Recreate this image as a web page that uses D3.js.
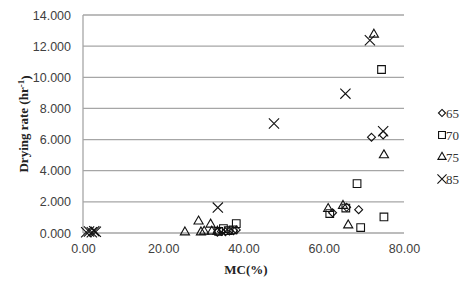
<!DOCTYPE html>
<html>
<head>
<meta charset="utf-8">
<script src="https://cdn.jsdelivr.net/npm/d3@7"></script>
<style>
  html, body { margin: 0; padding: 0; background: #fff; }
  svg { display: block; }
</style>
</head>
<body>
<div id="chart"></div>
<script>
// Drying rate vs moisture content, one series per temperature
const seriesNames = ['65', '70', '75', '85'];

const x65 = [33.5, 34.5, 35.5, 36.5, 37.5, 38.2, 62.2, 65.7, 68.7, 71.9, 74.8];
const y65 = [0.05, 0.10, 0.08, 0.12, 0.15, 0.20, 1.30, 1.65, 1.50, 6.15, 6.30];

const x70 = [33.8, 35.0, 36.2, 37.4, 38.2, 61.5, 65.5, 68.3, 69.2, 74.4, 75.0];
const y70 = [0.10, 0.28, 0.15, 0.20, 0.60, 1.25, 1.60, 3.17, 0.35, 10.50, 1.03];

const x75 = [25.4, 28.8, 29.4, 30.2, 31.8, 32.1, 33.5, 61.1, 64.8, 66.1, 72.5, 75.0];
const y75 = [0.05, 0.75, 0.05, 0.10, 0.55, 0.10, 0.10, 1.55, 1.75, 0.50, 12.75, 5.00];

const x85 = [0.8, 1.5, 2.2, 2.8, 3.2, 33.6, 47.6, 65.4, 71.5, 74.8];
const y85 = [0.05, 0.10, 0.05, 0.12, 0.08, 1.63, 7.03, 8.95, 12.38, 6.53];

const xTicks = [0, 20, 40, 60, 80];
const yTicks = [0, 2, 4, 6, 8, 10, 12, 14];

const width = 474, height = 291;
const margin = { top: 15, right: 70, bottom: 58, left: 83 };

const svg = d3.select('#chart').append('svg')
  .attr('width', width)
  .attr('height', height);

const x = d3.scaleLinear().domain([0, 80]).range([margin.left, width - margin.right]);
const y = d3.scaleLinear().domain([0, 14]).range([height - margin.bottom, margin.top]);

const gridColor = '#a6a6a6';
const tickFont = '"Liberation Sans", Arial, sans-serif';
const serif = '"Liberation Serif", "Times New Roman", serif';

// horizontal gridlines
svg.append('g')
  .selectAll('line')
  .data(yTicks)
  .enter()
  .append('line')
  .attr('x1', x(0))
  .attr('x2', x(80))
  .attr('y1', d => y(d))
  .attr('y2', d => y(d))
  .attr('stroke', gridColor)
  .attr('stroke-width', 1.3);

// vertical axis line
svg.append('line')
  .attr('x1', x(0)).attr('x2', x(0))
  .attr('y1', y(0)).attr('y2', y(14))
  .attr('stroke', gridColor)
  .attr('stroke-width', 1.3);

// y tick labels
const yAxis = svg.append('g')
  .attr('transform', `translate(${x(0)},0)`)
  .call(d3.axisLeft(y).tickValues(yTicks).tickSize(0).tickPadding(12).tickFormat(d3.format('.3f')));
yAxis.select('.domain').remove();
yAxis.selectAll('text')
  .style('font-family', tickFont)
  .style('font-size', '12.5px')
  .style('fill', '#404040');

// x tick labels
const xAxis = svg.append('g')
  .attr('transform', `translate(0,${y(0)})`)
  .call(d3.axisBottom(x).tickValues(xTicks).tickSize(0).tickPadding(11).tickFormat(d3.format('.2f')));
xAxis.select('.domain').remove();
xAxis.selectAll('text')
  .style('font-family', tickFont)
  .style('font-size', '12.5px')
  .style('fill', '#404040');

// axis titles
svg.append('text')
  .attr('transform', `translate(28,${(y(0) + y(14)) / 2}) rotate(-90)`)
  .attr('text-anchor', 'middle')
  .style('font-family', serif)
  .style('font-weight', 'bold')
  .style('font-size', '13px')
  .style('fill', '#222')
  .text('Drying rate (hr')
  .append('tspan')
  .attr('dy', '-0.45em')
  .style('font-size', '9px')
  .text('-1')
  .append('tspan')
  .attr('dy', '0.45em')
  .style('font-size', '13px')
  .text(')');

svg.append('text')
  .attr('x', 246)
  .attr('y', 274)
  .attr('text-anchor', 'middle')
  .style('font-family', serif)
  .style('font-weight', 'bold')
  .style('font-size', '13px')
  .style('fill', '#222')
  .text('MC(%)');

// markers
const symbolTypes = {
  '65': d3.symbolDiamond2,
  '70': d3.symbolSquare2,
  '75': d3.symbolTriangle2,
  '85': d3.symbolX
};
const symbolSizes = { '65': 40, '70': 75, '75': 60, '85': 70 };

const allSeries = [
  { name: '65', xs: x65, ys: y65 },
  { name: '70', xs: x70, ys: y70 },
  { name: '75', xs: x75, ys: y75 },
  { name: '85', xs: x85, ys: y85 }
];

allSeries.forEach(s => {
  const sym = d3.symbol().type(symbolTypes[s.name]).size(symbolSizes[s.name]);
  svg.append('g')
    .selectAll('path')
    .data(s.xs.map((v, i) => [v, s.ys[i]]))
    .enter()
    .append('path')
    .attr('d', sym)
    .attr('transform', d => `translate(${x(d[0])},${y(d[1])})`)
    .attr('fill', 'none')
    .attr('stroke', '#111')
    .attr('stroke-width', 1.1);
});

// legend
const legend = svg.append('g').attr('transform', 'translate(442,113)');
seriesNames.forEach((name, i) => {
  const g = legend.append('g').attr('transform', `translate(0,${i * 22})`);
  g.append('path')
    .attr('d', d3.symbol().type(symbolTypes[name]).size(symbolSizes[name] * 0.8)())
    .attr('fill', 'none')
    .attr('stroke', '#111')
    .attr('stroke-width', 1.1);
  g.append('text')
    .attr('x', 4)
    .attr('y', 4.5)
    .style('font-family', serif)
    .style('font-size', '13px')
    .style('fill', '#333')
    .text(name);
});
</script>
</body>
</html>
